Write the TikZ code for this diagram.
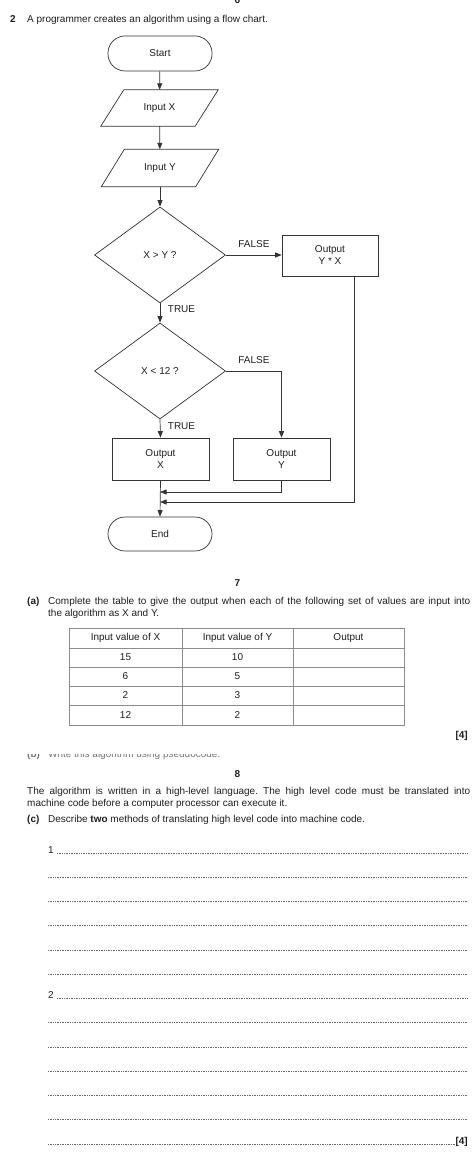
\documentclass[tikz,border=0pt]{standalone}
\usepackage{fontspec}
\setmainfont{Liberation Sans}
\usetikzlibrary{shapes.geometric,arrows.meta,calc}
\begin{document}
\frenchspacing
\begin{tikzpicture}[x=1pt,y=-1pt,
  every node/.style={font=\fontsize{10}{12}\selectfont, text=black!88},
  ln/.style={draw=black!80, line width=0.7pt},
  arr/.style={ln, -{Triangle[length=6.5pt,width=5pt]}},
  term/.style={ln, rectangle, rounded corners=17pt, minimum width=104pt, minimum height=35pt},
  io/.style={rectangle, minimum width=117pt, minimum height=36pt, inner sep=0pt},
  dec/.style={ln, diamond, minimum width=131pt, minimum height=96pt, inner sep=0pt},
  proc/.style={ln, rectangle, minimum width=97pt, minimum height=42pt, align=center, inner sep=0pt},
  lab/.style={inner sep=0pt},
  txt/.style={anchor=base west, inner sep=0pt},
  grid/.style={draw=black!45, line width=0.7pt},
  dots/.style={draw=black!60, line width=0.6pt, dash pattern=on 0.6pt off 1.1pt},
]
\clip (0,0) rectangle (474,1166);
\fill[white] (0,0) rectangle (474,1166);

% header
\node[txt, anchor=base, font=\bfseries\fontsize{10}{12}\selectfont] (p6) at (237.5,4) {6};
\node[txt, font=\bfseries\fontsize{10}{12}\selectfont] (q2) at (10,22.5) {2};
\node[txt] (q2t) at (27,22.5) {A programmer creates an algorithm using a flow chart.};

% flow chart
\node[term] (start) at (160,53.5) {Start};
\node[io] (inX) at (159.5,108) {Input X};
\node[io, minimum height=37pt] (inY) at (160,168) {Input Y};
\foreach \n in {inX,inY}
  \draw[ln] (\n.south west) -- ($(\n.north west)+(23,0)$) -- (\n.north east)
    -- ($(\n.south east)+(-23,0)$) -- cycle;
\node[dec] (d1) at (160,255) {X > Y ?};
\node[proc, minimum width=96pt, minimum height=41pt] (oYX) at (330,255.5) {Output\\Y * X};
\node[dec] (d2) at (160,371) {X < 12 ?};
\node[proc] (oX) at (160.5,459) {Output\\X};
\node[proc] (oY) at (281.5,459) {Output\\Y};
\node[term, minimum height=34pt] (end) at (160,534) {End};
\coordinate (j1) at (160,492);
\coordinate (j2) at (160,502);
\coordinate (r1) at ($(oYX.south)+(24,0)$);

\draw[arr] (start) -- (inX);
\draw[arr] (inX) -- (inY);
\draw[arr] (inY) -- (d1);
\draw[arr] (d1.east) -- (d1.east -| oYX.west);
\draw[arr] (d1.south) -- (d2.north);
\draw[arr] (d2.east) -| (oY.north);
\draw[arr] (d2.south) -- (oX.north);
\draw[arr] (oX.south) -- (end.north);
\draw[arr] (oY.south) |- (j1);
\draw[arr] (r1) |- (j2);

\node[lab] (f1) at (254,244) {FALSE};
\node[lab] (t1) at (181.5,309) {TRUE};
\node[lab] (f2) at (254,360) {FALSE};
\node[lab] (t2) at (181.5,426) {TRUE};

% page 7
\node[txt, anchor=base, font=\bfseries\fontsize{10}{12}\selectfont] (p7) at (237.5,586.5) {7};
\node[txt, font=\bfseries\fontsize{10}{12}\selectfont] (qa) at (27,604.5) {(a)};
\node[txt] (qa1) at (48,604.5) {\makebox[422pt][s]{Complete the table to give the output when each of the following set of values are input into}};
\node[txt] (qa2) at (48,616) {the algorithm as X and Y.};

% table
\draw[grid] (69,628) rectangle (404,725);
\foreach \yy in {648,667,686,705} \draw[grid] (69,\yy) -- (404,\yy);
\foreach \xx in {182,293} \draw[grid] (\xx,628) -- (\xx,725);
\node (h1) at (125.5,638) {Input value of X};
\node (h2) at (237.5,638) {Input value of Y};
\node (h3) at (348.5,638) {Output};
\node (a1) at (125.5,657.5) {15};
\node (b1) at (237.5,657.5) {10};
\node (a2) at (125.5,676.5) {6};
\node (b2) at (237.5,676.5) {5};
\node (a3) at (125.5,695.5) {2};
\node (b3) at (237.5,695.5) {3};
\node (a4) at (125.5,715) {12};
\node (b4) at (237.5,715) {2};
\node[txt, anchor=base east, font=\bfseries\fontsize{10}{12}\selectfont] (m1) at (468,738.5) {[4]};

% cut-off (b) line
\begin{scope}
\clip (0,754.8) rectangle (474,762);
\node[txt, text=black!55, font=\bfseries\fontsize{10}{12}\selectfont] (qb) at (27,757) {(b)};
\node[txt, text=black!55] (qbt) at (48,757) {Write this algorithm using pseudocode.};
\end{scope}

% page 8
\node[txt, anchor=base, font=\bfseries\fontsize{10}{12}\selectfont] (p8) at (237.5,777.5) {8};
\node[txt] (s1) at (27,794.5) {\makebox[443pt][s]{The algorithm is written in a high-level language. The high level code must be translated into}};
\node[txt] (s2) at (27,806.5) {machine code before a computer processor can execute it.};
\node[txt, font=\bfseries\fontsize{10}{12}\selectfont] (qc) at (27,822.5) {(c)};
\node[txt] (qct) at (48,822.5) {Describe \textbf{two} methods of translating high level code into machine code.};

% answer lines
\node[txt] (n1) at (48,853) {1};
\node[txt] (n2) at (48,998) {2};
\draw[dots] (57,853) -- (467,853);
\foreach \k in {1,...,5} \draw[dots] (48,853+24.25*\k) -- (467,853+24.25*\k);
\draw[dots] (57,998.5) -- (467,998.5);
\foreach \k in {7,...,11} \draw[dots] (48,853+24.25*\k) -- (467,853+24.25*\k);
\draw[dots] (48,1144) -- (455,1144);
\node[txt, anchor=base east, font=\bfseries\fontsize{10}{12}\selectfont] (m2) at (468,1144) {[4]};
\end{tikzpicture}
\end{document}
